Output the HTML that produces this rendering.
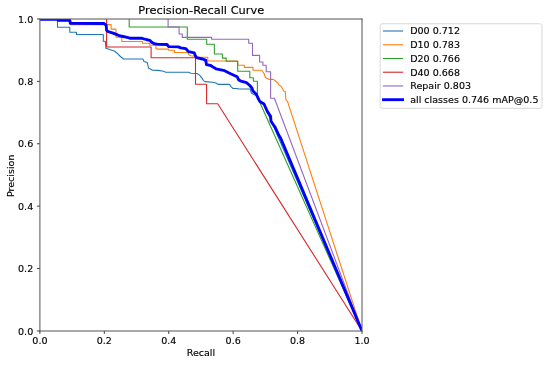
<!DOCTYPE html>
<html><head><meta charset="utf-8"><title>Precision-Recall Curve</title><style>html,body{margin:0;padding:0;background:#fff;}svg{display:block;} svg text{stroke:#000;stroke-width:0.15px;}</style></head><body>
<svg width="550" height="365" preserveAspectRatio="none" viewBox="0 0 576 382.254545" version="1.1">
 <defs>
  <style type="text/css">*{stroke-linejoin: round; stroke-linecap: butt}</style>
 </defs>
 <g id="figure_1">
  <g id="patch_1">
   <path d="M 0 382.254545 
L 576 382.254545 
L 576 0 
L 0 0 
z
" style="fill: #ffffff"/>
  </g>
  <g id="axes_1">
   <g id="patch_2">
    <path d="M 41.786182 346.594909 
L 379.112727 346.594909 
L 379.112727 19.898182 
L 41.786182 19.898182 
z
" style="fill: #ffffff"/>
   </g>
   <g id="matplotlib.axis_1">
    <g id="xtick_1">
     <g id="line2d_1">
      <g>
       <path d="M 0 0 L 0 3.1" transform="translate(41.786182 346.594909)" style="stroke: #000000; stroke-width: 0.8"/>
      </g>
     </g>
     <g id="text_1">
      <text style="font-size: 10px; font-family: 'DejaVu Sans', 'Liberation Sans', sans-serif; text-anchor: middle" x="41.786182" y="360.123347" transform="rotate(-0 41.786182 360.123347)">0.0</text>
     </g>
    </g>
    <g id="xtick_2">
     <g id="line2d_2">
      <g>
       <path d="M 0 0 L 0 3.1" transform="translate(109.251491 346.594909)" style="stroke: #000000; stroke-width: 0.8"/>
      </g>
     </g>
     <g id="text_2">
      <text style="font-size: 10px; font-family: 'DejaVu Sans', 'Liberation Sans', sans-serif; text-anchor: middle" x="109.251491" y="360.123347" transform="rotate(-0 109.251491 360.123347)">0.2</text>
     </g>
    </g>
    <g id="xtick_3">
     <g id="line2d_3">
      <g>
       <path d="M 0 0 L 0 3.1" transform="translate(176.7168 346.594909)" style="stroke: #000000; stroke-width: 0.8"/>
      </g>
     </g>
     <g id="text_3">
      <text style="font-size: 10px; font-family: 'DejaVu Sans', 'Liberation Sans', sans-serif; text-anchor: middle" x="176.7168" y="360.123347" transform="rotate(-0 176.7168 360.123347)">0.4</text>
     </g>
    </g>
    <g id="xtick_4">
     <g id="line2d_4">
      <g>
       <path d="M 0 0 L 0 3.1" transform="translate(244.182109 346.594909)" style="stroke: #000000; stroke-width: 0.8"/>
      </g>
     </g>
     <g id="text_4">
      <text style="font-size: 10px; font-family: 'DejaVu Sans', 'Liberation Sans', sans-serif; text-anchor: middle" x="244.182109" y="360.123347" transform="rotate(-0 244.182109 360.123347)">0.6</text>
     </g>
    </g>
    <g id="xtick_5">
     <g id="line2d_5">
      <g>
       <path d="M 0 0 L 0 3.1" transform="translate(311.647418 346.594909)" style="stroke: #000000; stroke-width: 0.8"/>
      </g>
     </g>
     <g id="text_5">
      <text style="font-size: 10px; font-family: 'DejaVu Sans', 'Liberation Sans', sans-serif; text-anchor: middle" x="311.647418" y="360.123347" transform="rotate(-0 311.647418 360.123347)">0.8</text>
     </g>
    </g>
    <g id="xtick_6">
     <g id="line2d_6">
      <g>
       <path d="M 0 0 L 0 3.1" transform="translate(379.112727 346.594909)" style="stroke: #000000; stroke-width: 0.8"/>
      </g>
     </g>
     <g id="text_6">
      <text style="font-size: 10px; font-family: 'DejaVu Sans', 'Liberation Sans', sans-serif; text-anchor: middle" x="379.112727" y="360.123347" transform="rotate(-0 379.112727 360.123347)">1.0</text>
     </g>
    </g>
    <g id="text_7">
     <text style="font-size: 10px; font-family: 'DejaVu Sans', 'Liberation Sans', sans-serif; text-anchor: middle" x="210.449455" y="373.181472" transform="rotate(-0 210.449455 373.181472)">Recall</text>
    </g>
   </g>
   <g id="matplotlib.axis_2">
    <g id="ytick_1">
     <g id="line2d_7">
      <g>
       <path d="M 0 0 L -3.1 0" transform="translate(41.786182 346.594909)" style="stroke: #000000; stroke-width: 0.8"/>
      </g>
     </g>
     <g id="text_8">
      <text style="font-size: 10px; font-family: 'DejaVu Sans', 'Liberation Sans', sans-serif; text-anchor: end" x="34.786182" y="350.394128" transform="rotate(-0 34.786182 350.394128)">0.0</text>
     </g>
    </g>
    <g id="ytick_2">
     <g id="line2d_8">
      <g>
       <path d="M 0 0 L -3.1 0" transform="translate(41.786182 281.255564)" style="stroke: #000000; stroke-width: 0.8"/>
      </g>
     </g>
     <g id="text_9">
      <text style="font-size: 10px; font-family: 'DejaVu Sans', 'Liberation Sans', sans-serif; text-anchor: end" x="34.786182" y="285.054782" transform="rotate(-0 34.786182 285.054782)">0.2</text>
     </g>
    </g>
    <g id="ytick_3">
     <g id="line2d_9">
      <g>
       <path d="M 0 0 L -3.1 0" transform="translate(41.786182 215.916218)" style="stroke: #000000; stroke-width: 0.8"/>
      </g>
     </g>
     <g id="text_10">
      <text style="font-size: 10px; font-family: 'DejaVu Sans', 'Liberation Sans', sans-serif; text-anchor: end" x="34.786182" y="219.715437" transform="rotate(-0 34.786182 219.715437)">0.4</text>
     </g>
    </g>
    <g id="ytick_4">
     <g id="line2d_10">
      <g>
       <path d="M 0 0 L -3.1 0" transform="translate(41.786182 150.576873)" style="stroke: #000000; stroke-width: 0.8"/>
      </g>
     </g>
     <g id="text_11">
      <text style="font-size: 10px; font-family: 'DejaVu Sans', 'Liberation Sans', sans-serif; text-anchor: end" x="34.786182" y="154.376091" transform="rotate(-0 34.786182 154.376091)">0.6</text>
     </g>
    </g>
    <g id="ytick_5">
     <g id="line2d_11">
      <g>
       <path d="M 0 0 L -3.1 0" transform="translate(41.786182 85.237527)" style="stroke: #000000; stroke-width: 0.8"/>
      </g>
     </g>
     <g id="text_12">
      <text style="font-size: 10px; font-family: 'DejaVu Sans', 'Liberation Sans', sans-serif; text-anchor: end" x="34.786182" y="89.036746" transform="rotate(-0 34.786182 89.036746)">0.8</text>
     </g>
    </g>
    <g id="ytick_6">
     <g id="line2d_12">
      <g>
       <path d="M 0 0 L -3.1 0" transform="translate(41.786182 19.898182)" style="stroke: #000000; stroke-width: 0.8"/>
      </g>
     </g>
     <g id="text_13">
      <text style="font-size: 10px; font-family: 'DejaVu Sans', 'Liberation Sans', sans-serif; text-anchor: end" x="34.786182" y="23.697401" transform="rotate(-0 34.786182 23.697401)">1.0</text>
     </g>
    </g>
    <g id="text_14">
     <text style="font-size: 10px; font-family: 'DejaVu Sans', 'Liberation Sans', sans-serif; text-anchor: middle" x="14.803369" y="184.085305" transform="rotate(-90 14.803369 184.085305)">Precision</text>
    </g>
   </g>
   <g id="line2d_13">
    <path d="M 41.786182 13.364247 
L 60.218182 13.364247 
L 60.218182 28.590545 
L 73.099636 28.590545 
L 73.099636 33.826909 
L 80.116364 33.826909 
L 80.116364 36.130909 
L 108.183273 36.130909 
L 108.183273 43.147636 
L 110.277818 43.147636 
L 111.010909 50.688 
L 112.686545 51.106909 
L 116.352 52.258909 
L 119.808 53.410909 
L 122.740364 55.714909 
L 125.568 58.647273 
L 129.233455 61.789091 
L 149.655273 61.789091 
L 150.807273 64.302545 
L 154.263273 65.454545 
L 155.52 71.214545 
L 159.918545 73.623273 
L 165.469091 73.728 
L 171.229091 74.670545 
L 173.533091 75.613091 
L 197.620364 75.613091 
L 199.819636 76.660364 
L 206.208 76.974545 
L 209.035636 78.650182 
L 211.339636 81.477818 
L 213.015273 84.410182 
L 214.795636 85.457455 
L 222.754909 86.085818 
L 226.210909 86.923636 
L 228.305455 88.389818 
L 240.349091 88.389818 
L 241.92 90.693818 
L 244.014545 92.683636 
L 248.936727 92.683636 
L 249.250909 93.207273 
L 262.132364 93.207273 
L 262.656 95.930182 
L 263.493818 97.605818 
L 268.101818 100.014545 
L 270.196364 103.156364 
L 272.290909 106.298182 
L 275.956364 107.869091 
L 379.112727 346.594909 
" clip-path="url(#ped9c197df1)" style="fill: none; stroke: #1f77b4; stroke-width: 1.15; stroke-linecap: square"/>
   </g>
   <g id="line2d_14">
    <path d="M 41.786182 13.364247 
L 73.518545 13.364247 
L 73.518545 25.762909 
L 116.352 25.762909 
L 116.352 30.475636 
L 121.483636 30.475636 
L 121.483636 39.063273 
L 127.557818 39.063273 
L 127.557818 43.461818 
L 149.131636 43.461818 
L 149.131636 45.242182 
L 156.881455 45.242182 
L 156.881455 47.441455 
L 163.269818 47.441455 
L 163.269818 50.897455 
L 165.469091 51.421091 
L 176.674909 51.421091 
L 176.674909 52.677818 
L 182.644364 52.677818 
L 182.644364 54.981818 
L 196.887273 54.981818 
L 197.410909 56.971636 
L 199.924364 58.333091 
L 203.380364 58.752 
L 205.998545 59.904 
L 217.623273 59.904 
L 217.623273 63.883636 
L 248.936727 63.883636 
L 248.936727 68.386909 
L 255.848727 68.386909 
L 255.848727 70.586182 
L 264.96 70.586182 
L 264.96 73.518545 
L 274.176 73.518545 
L 276.48 76.974545 
L 278.155636 81.477818 
L 282.24 83.153455 
L 286.219636 83.153455 
L 288.523636 84.829091 
L 291.351273 87.133091 
L 292.503273 89.437091 
L 294.283636 90.065455 
L 295.959273 92.893091 
L 297.111273 95.197091 
L 298.786909 95.720727 
L 299.415273 104.308364 
L 301.090909 106.088727 
L 379.112727 346.594909 
" clip-path="url(#ped9c197df1)" style="fill: none; stroke: #ff7f0e; stroke-width: 1.15; stroke-linecap: square"/>
   </g>
   <g id="line2d_15">
    <path d="M 41.786182 13.364247 
L 135.307636 13.364247 
L 135.307636 28.276364 
L 196.154182 28.276364 
L 196.154182 41.157818 
L 216.471273 41.157818 
L 216.471273 46.394182 
L 224.535273 46.394182 
L 224.535273 56.552727 
L 232.913455 56.552727 
L 232.913455 60.846545 
L 236.893091 60.846545 
L 236.893091 64.093091 
L 248.936727 64.093091 
L 248.936727 74.670545 
L 261.608727 74.670545 
L 261.608727 81.477818 
L 265.378909 81.477818 
L 265.378909 85.038545 
L 269.568 85.038545 
L 269.568 101.585455 
L 379.112727 346.594909 
" clip-path="url(#ped9c197df1)" style="fill: none; stroke: #2ca02c; stroke-width: 1.15; stroke-linecap: square"/>
   </g>
   <g id="line2d_16">
    <path d="M 41.786182 13.364247 
L 111.639273 13.364247 
L 111.639273 49.221818 
L 158.242909 49.221818 
L 158.242909 60.427636 
L 204.741818 60.427636 
L 204.741818 88.180364 
L 216.366545 88.180364 
L 216.366545 108.602182 
L 227.991273 108.602182 
L 379.112727 346.594909 
" clip-path="url(#ped9c197df1)" style="fill: none; stroke: #d62728; stroke-width: 1.15; stroke-linecap: square"/>
   </g>
   <g id="line2d_17">
    <path d="M 41.786182 13.364247 
L 176.046545 13.364247 
L 176.046545 28.276364 
L 187.566545 28.276364 
L 187.566545 35.607273 
L 190.917818 35.607273 
L 190.917818 39.168 
L 221.602909 39.168 
L 221.602909 41.157818 
L 260.456727 41.157818 
L 260.456727 45.242182 
L 264.436364 45.242182 
L 264.436364 58.018909 
L 271.872 58.018909 
L 271.872 64.930909 
L 275.328 64.930909 
L 275.328 68.386909 
L 278.784 68.386909 
L 278.784 75.194182 
L 283.392 75.194182 
L 283.392 102.842182 
L 287.371636 102.842182 
L 379.112727 346.594909 
" clip-path="url(#ped9c197df1)" style="fill: none; stroke: #9467bd; stroke-width: 1.15; stroke-linecap: square"/>
   </g>
   <g id="line2d_18">
    <path d="M 41.786182 20.212364 
L 60.532364 20.212364 
L 60.741818 21.259636 
L 73.099636 21.259636 
L 73.623273 24.296727 
L 109.021091 24.610909 
L 111.220364 26.600727 
L 111.639273 31.732364 
L 113.314909 33.093818 
L 117.608727 34.350545 
L 121.902545 36.026182 
L 124.939636 37.387636 
L 128.814545 38.225455 
L 133.108364 39.063273 
L 136.669091 40.110545 
L 148.712727 40.110545 
L 153.006545 41.367273 
L 156.881455 42.205091 
L 158.976 44.404364 
L 161.594182 45.661091 
L 165.469091 46.498909 
L 174.894545 46.603636 
L 176.674909 48.802909 
L 186.938182 49.117091 
L 189.137455 50.164364 
L 194.688 51.002182 
L 197.410909 54.039273 
L 203.380364 55.296 
L 204.637091 58.333091 
L 205.998545 60.427636 
L 211.968 61.789091 
L 215.424 63.045818 
L 216.261818 67.758545 
L 220.660364 68.596364 
L 224.011636 70.795636 
L 226.210909 72.052364 
L 235.217455 74.042182 
L 242.024727 77.498182 
L 248.413091 80.430545 
L 250.088727 83.781818 
L 252.392727 84.933818 
L 258.152727 86.609455 
L 261.608727 89.541818 
L 263.912727 92.369455 
L 264.96 95.301818 
L 268.416 98.653091 
L 270.196364 102.632727 
L 272.186182 106.402909 
L 276.48 108.916364 
L 279.936 116.666182 
L 283.392 121.902545 
L 283.810909 127.034182 
L 286.429091 130.909091 
L 288.209455 133.422545 
L 291.874909 141.381818 
L 293.969455 144.837818 
L 379.112727 346.594909 
" clip-path="url(#ped9c197df1)" style="fill: none; stroke: #0000ff; stroke-width: 3; stroke-linecap: square"/>
   </g>
   <g id="patch_3">
    <path d="M 41.786182 346.594909 
L 41.786182 19.898182 
" style="fill: none; stroke: #555555; stroke-width: 1.05; stroke-linejoin: miter; stroke-linecap: square"/>
   </g>
   <g id="patch_4">
    <path d="M 379.112727 346.594909 
L 379.112727 19.898182 
" style="fill: none; stroke: #555555; stroke-width: 1.05; stroke-linejoin: miter; stroke-linecap: square"/>
   </g>
   <g id="patch_5">
    <path d="M 41.786182 346.594909 
L 379.112727 346.594909 
" style="fill: none; stroke: #555555; stroke-width: 1.05; stroke-linejoin: miter; stroke-linecap: square"/>
   </g>
   <g id="patch_6">
    <path d="M 41.786182 19.898182 
L 379.112727 19.898182 
" style="fill: none; stroke: #555555; stroke-width: 1.05; stroke-linejoin: miter; stroke-linecap: square"/>
   </g>
   <g id="text_15">
    <text style="font-size: 11.9px; font-family: 'DejaVu Sans', 'Liberation Sans', sans-serif; text-anchor: middle" x="210.763636" y="14.798182" transform="rotate(-0 210.763636 14.798182)">Precision-Recall Curve</text>
   </g>
   <g id="legend_1">
    <g id="patch_7">
     <path d="M 400.129425 113.461932 
L 565.6363 113.461932 
Q 567.6363 113.461932 567.6363 111.461932 
L 567.6363 26.898182 
Q 567.6363 24.898182 565.6363 24.898182 
L 400.129425 24.898182 
Q 398.129425 24.898182 398.129425 26.898182 
L 398.129425 111.461932 
Q 398.129425 113.461932 400.129425 113.461932 
z
" style="fill: #ffffff; opacity: 0.8; stroke: #cccccc; stroke-linejoin: miter"/>
    </g>
    <g id="line2d_19">
     <path d="M 401.609425 32.476619 
L 411.609425 32.476619 
L 421.609425 32.476619 
" style="fill: none; stroke: #1f77b4; stroke-width: 1.15; stroke-linecap: square"/>
    </g>
    <g id="text_16">
     <text style="font-size: 10px; font-family: 'DejaVu Sans', 'Liberation Sans', sans-serif; text-anchor: start" x="429.609425" y="35.976619" transform="rotate(-0 429.609425 35.976619)">D00 0.712</text>
    </g>
    <g id="line2d_20">
     <path d="M 401.609425 46.861744 
L 411.609425 46.861744 
L 421.609425 46.861744 
" style="fill: none; stroke: #ff7f0e; stroke-width: 1.15; stroke-linecap: square"/>
    </g>
    <g id="text_17">
     <text style="font-size: 10px; font-family: 'DejaVu Sans', 'Liberation Sans', sans-serif; text-anchor: start" x="429.609425" y="50.361744" transform="rotate(-0 429.609425 50.361744)">D10 0.783</text>
    </g>
    <g id="line2d_21">
     <path d="M 401.609425 61.246869 
L 411.609425 61.246869 
L 421.609425 61.246869 
" style="fill: none; stroke: #2ca02c; stroke-width: 1.15; stroke-linecap: square"/>
    </g>
    <g id="text_18">
     <text style="font-size: 10px; font-family: 'DejaVu Sans', 'Liberation Sans', sans-serif; text-anchor: start" x="429.609425" y="64.746869" transform="rotate(-0 429.609425 64.746869)">D20 0.766</text>
    </g>
    <g id="line2d_22">
     <path d="M 401.609425 75.631994 
L 411.609425 75.631994 
L 421.609425 75.631994 
" style="fill: none; stroke: #d62728; stroke-width: 1.15; stroke-linecap: square"/>
    </g>
    <g id="text_19">
     <text style="font-size: 10px; font-family: 'DejaVu Sans', 'Liberation Sans', sans-serif; text-anchor: start" x="429.609425" y="79.131994" transform="rotate(-0 429.609425 79.131994)">D40 0.668</text>
    </g>
    <g id="line2d_23">
     <path d="M 401.609425 90.017119 
L 411.609425 90.017119 
L 421.609425 90.017119 
" style="fill: none; stroke: #9467bd; stroke-width: 1.15; stroke-linecap: square"/>
    </g>
    <g id="text_20">
     <text style="font-size: 10px; font-family: 'DejaVu Sans', 'Liberation Sans', sans-serif; text-anchor: start" x="429.609425" y="93.517119" transform="rotate(-0 429.609425 93.517119)">Repair 0.803</text>
    </g>
    <g id="line2d_24">
     <path d="M 401.609425 104.402244 
L 411.609425 104.402244 
L 421.609425 104.402244 
" style="fill: none; stroke: #0000ff; stroke-width: 3; stroke-linecap: square"/>
    </g>
    <g id="text_21">
     <text style="font-size: 10px; font-family: 'DejaVu Sans', 'Liberation Sans', sans-serif; text-anchor: start" x="429.609425" y="107.902244" transform="rotate(-0 429.609425 107.902244)">all classes 0.746 mAP@0.5</text>
    </g>
   </g>
  </g>
 </g>
 <defs>
  <clipPath id="ped9c197df1">
   <rect x="41.786182" y="19.898182" width="337.326545" height="326.696727"/>
  </clipPath>
 </defs>
</svg>

</body></html>
